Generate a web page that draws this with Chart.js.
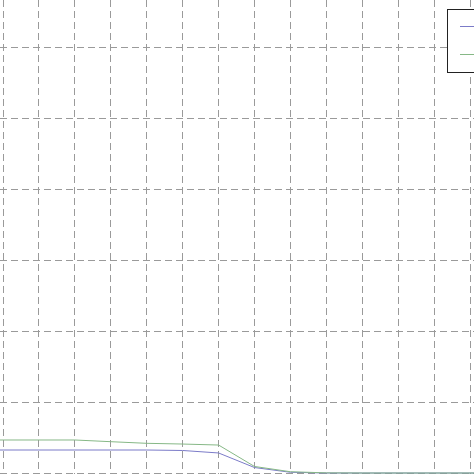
<!DOCTYPE html>
<html>
<head>
<meta charset="utf-8">
<script src="https://cdn.jsdelivr.net/npm/chart.js@4/dist/chart.umd.min.js"></script>
<style>
html,body{margin:0;padding:0;background:#fff;}
#wrap{width:474px;height:474px;position:relative;}
</style>
</head>
<body>
<div id="wrap"><canvas id="c" width="474" height="474"></canvas></div>
<script>
// x positions (index of each sample); -1 and 14 extend past the cropped edges
const xValues = [-1, 0, 1, 2, 3, 4, 5, 6, 7, 8, 9, 10, 11, 12, 13, 14];
const seriesBlue  = [3.24, 3.24, 3.24, 3.24, 3.24, 3.24, 3.17, 2.82, 0.77, 0.10, 0, 0, 0, 0, 0, 0];
const seriesGreen = [4.65, 4.65, 4.65, 4.65, 4.41, 4.18, 4.08, 3.94, 0.92, 0.18, 0.02, 0, 0, 0, 0, 0];
const seriesLabels = ['Series 1', 'Series 2'];

const toPoints = (ys) => xValues.map((x, i) => ({x: x, y: ys[i]}));

const boxLegend = {
  id: 'boxLegend',
  afterDraw(chart) {
    const ctx = chart.ctx;
    ctx.save();
    ctx.fillStyle = '#ffffff';
    ctx.fillRect(447.5, 9.5, 40, 63);
    ctx.strokeStyle = '#222222';
    ctx.lineWidth = 1;
    ctx.strokeRect(447.5, 9.5, 40, 63);
    const ys = [26, 54];
    chart.data.datasets.forEach((ds, i) => {
      ctx.strokeStyle = ds.borderColor;
      ctx.lineWidth = 1;
      ctx.beginPath();
      ctx.moveTo(460, ys[i] + 0.5);
      ctx.lineTo(490, ys[i] + 0.5);
      ctx.stroke();
      ctx.fillStyle = '#000';
      ctx.font = '12px "DejaVu Sans"';
      ctx.fillText(ds.label, 500, ys[i] + 4);
    });
    ctx.restore();
  }
};

new Chart(document.getElementById('c'), {
  type: 'line',
  data: {
    datasets: [
      {label: seriesLabels[0], data: toPoints(seriesBlue), borderColor: '#7b7bc8', borderWidth: 1, pointRadius: 0, tension: 0, fill: false, order: 1},
      {label: seriesLabels[1], data: toPoints(seriesGreen), borderColor: '#86b886', borderWidth: 1, pointRadius: 0, tension: 0, fill: false, order: 0}
    ]
  },
  options: {
    responsive: false,
    animation: false,
    devicePixelRatio: 1,
    layout: {padding: 0},
    plugins: {legend: {display: false}, tooltip: {enabled: false}},
    scales: {
      x: {
        type: 'linear',
        min: -0.0858,
        max: 13.111,
        ticks: {display: false, stepSize: 1, includeBounds: false},
        grid: {color: '#9a9a9a', lineWidth: 1, drawTicks: false},
        border: {display: false, dash: [7, 4]}
      },
      y: {
        type: 'linear',
        min: -0.14,
        max: 66.62,
        ticks: {display: false, stepSize: 10, includeBounds: false},
        grid: {color: '#9a9a9a', lineWidth: 1, drawTicks: false},
        border: {display: false, dash: [7, 4]}
      }
    }
  },
  plugins: [boxLegend]
});
</script>
</body>
</html>
